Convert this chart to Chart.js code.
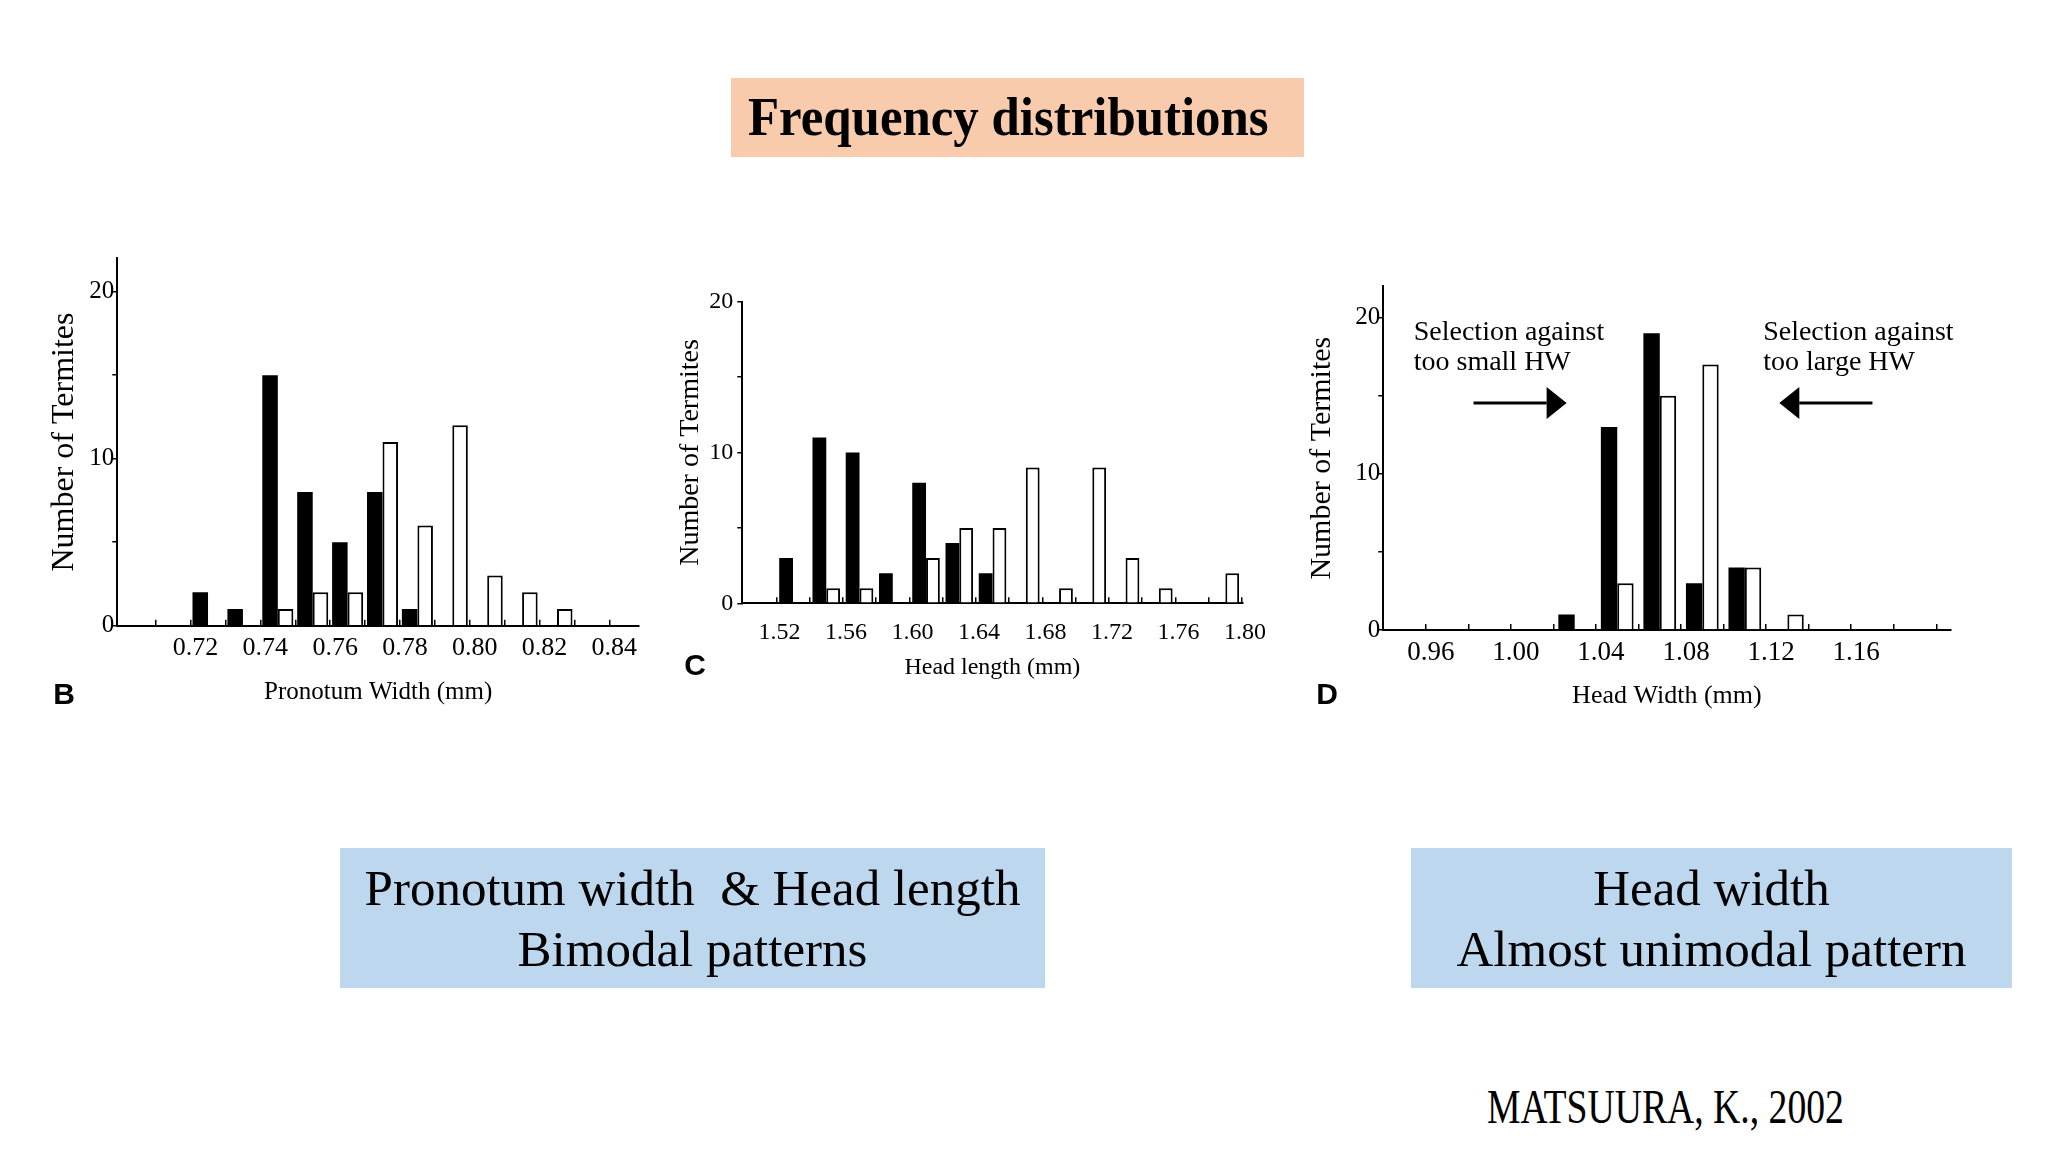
<!DOCTYPE html>
<html>
<head>
<meta charset="utf-8">
<title>Frequency distributions</title>
<script src="https://cdn.jsdelivr.net/npm/chart.js@4.4.1/dist/chart.umd.min.js"></script>
<style>
  html, body { margin: 0; padding: 0; background: #fff; }
  body {
    width: 2048px; height: 1152px; position: relative; overflow: hidden;
    font-family: "Liberation Serif", "Times New Roman", serif; color: #000;
  }
  .abs { position: absolute; }
  canvas { position: absolute; }

  /* slide title */
  .title-box { left: 731px; top: 78px; width: 573px; height: 79px; background: #f8cbad; }
  .title-text {
    left: 748px; top: 89px; font-weight: bold; font-size: 55px; line-height: 1;
    white-space: nowrap; transform: scaleX(0.925); transform-origin: left top;
  }

  /* blue summary boxes */
  .note-box { top: 848px; height: 140px; background: #bdd7ee; }
  .note-text {
    position: absolute; left: 0; right: 0; top: 10px; text-align: center;
    font-size: 51px; line-height: 60.7px; white-space: pre;
  }

  /* panel letters B, C, D */
  .panel {
    font-family: "Liberation Sans", Arial, sans-serif; font-weight: bold;
    font-size: 30px; line-height: 1; transform: translate(-50%, -50%);
  }

  .cite {
    left: 1487px; top: 1083px; font-size: 48px; line-height: 1; white-space: nowrap;
    transform: scaleX(0.785); transform-origin: left top;
  }
</style>
</head>
<body>

<div class="abs title-box"></div>
<div class="abs title-text">Frequency distributions</div>

<canvas id="pronotumChart"></canvas>
<canvas id="headLengthChart"></canvas>
<canvas id="headWidthChart"></canvas>

<div class="abs panel" style="left:64px; top:694px;">B</div>
<div class="abs panel" style="left:695px; top:665px;">C</div>
<div class="abs panel" style="left:1327px; top:694px;">D</div>

<div class="abs note-box" style="left:340px; width:705px;">
  <div class="note-text">Pronotum width  &amp; Head length
Bimodal patterns</div>
</div>
<div class="abs note-box" style="left:1411px; width:601px;">
  <div class="note-text">Head width
Almost unimodal pattern</div>
</div>

<div class="abs cite">MATSUURA, K., 2002</div>

<script>
// ---------- data ----------

// B: pronotum width, 0.01 mm classes (class centres)
const pronotumBins  = [0.705, 0.715, 0.725, 0.735, 0.745, 0.755, 0.765, 0.775, 0.785, 0.795, 0.805, 0.815, 0.825, 0.835];
const pronotumBlack = [0, 0, 2, 1, 15, 8, 5, 8, 1, 0, 0, 0, 0, 0];
const pronotumWhite = [0, 0, 0, 0, 1, 2, 2, 11, 6, 12, 3, 2, 1, 0];
const pronotumTicks = [0.71, 0.72, 0.73, 0.74, 0.75, 0.76, 0.77, 0.78, 0.79, 0.80, 0.81, 0.82, 0.83, 0.84];
const pronotumTickLabels = ['0.72', '0.74', '0.76', '0.78', '0.80', '0.82', '0.84'];

// C: head length, 0.02 mm classes
const headLengthBins  = [1.51, 1.53, 1.55, 1.57, 1.59, 1.61, 1.63, 1.65, 1.67, 1.69, 1.71, 1.73, 1.75, 1.77, 1.79];
const headLengthBlack = [0, 3, 11, 10, 2, 8, 4, 2, 0, 0, 0, 0, 0, 0, 0];
const headLengthWhite = [0, 0, 1, 1, 0, 3, 5, 5, 9, 1, 9, 3, 1, 0, 2];
const headLengthTicks = [1.52, 1.54, 1.56, 1.58, 1.60, 1.62, 1.64, 1.66, 1.68, 1.70, 1.72, 1.74, 1.76, 1.78, 1.80];
const headLengthTickLabels = ['1.52', '1.56', '1.60', '1.64', '1.68', '1.72', '1.76', '1.80'];

// D: head width, 0.02 mm classes
const headWidthBins  = [0.95, 0.97, 0.99, 1.01, 1.03, 1.05, 1.07, 1.09, 1.11, 1.13, 1.15, 1.17, 1.19];
const headWidthBlack = [0, 0, 0, 0, 1, 13, 19, 3, 4, 0, 0, 0, 0];
const headWidthWhite = [0, 0, 0, 0, 0, 3, 15, 17, 4, 1, 0, 0, 0];
const headWidthTicks = [0.96, 0.98, 1.00, 1.02, 1.04, 1.06, 1.08, 1.10, 1.12, 1.14, 1.16, 1.18, 1.20];
const headWidthTickLabels = ['0.96', '1.00', '1.04', '1.08', '1.12', '1.16'];

// y axis (number of termites)
const countTicks = [0, 5, 10, 15, 20];
const countTickLabels = ['0', '10', '20'];

// D annotations (x in mm, y in counts)
const headWidthNotes = [
    { x: 0.9543, y: 18.6, lines: ['Selection against', 'too small HW'] },
    { x: 1.1186, y: 18.6, lines: ['Selection against', 'too large HW'] }
];
const headWidthArrows = [
    { from: 0.9824, to: 1.0262, y: 14.53 },
    { from: 1.1700, to: 1.1262, y: 14.53 }
];

const serif = "'Liberation Serif', 'Times New Roman', serif";

// Text + arrows drawn on top of the bars
function arrowNotes(notes, arrows) {
    return {
        id: 'arrowNotes',
        afterDatasetsDraw(chart) {
            const { ctx, scales: { x, y } } = chart;
            ctx.save();
            ctx.fillStyle = '#000';
            ctx.strokeStyle = '#000';
            ctx.font = '28px ' + serif;
            ctx.textBaseline = 'alphabetic';
            notes.forEach(n => {
                const px = x.getPixelForValue(n.x);
                const py = y.getPixelForValue(n.y);
                n.lines.forEach((t, i) => ctx.fillText(t, px, py + i * 30));
            });
            const headLen = 20, headHalf = 16;
            arrows.forEach(a => {
                const x0 = x.getPixelForValue(a.from);
                const x1 = x.getPixelForValue(a.to);
                const py = y.getPixelForValue(a.y);
                const dir = Math.sign(x1 - x0);
                ctx.lineWidth = 3;
                ctx.beginPath();
                ctx.moveTo(x0, py);
                ctx.lineTo(x1 - dir * headLen, py);
                ctx.stroke();
                ctx.beginPath();
                ctx.moveTo(x1, py);
                ctx.lineTo(x1 - dir * headLen, py - headHalf);
                ctx.lineTo(x1 - dir * headLen, py + headHalf);
                ctx.closePath();
                ctx.fill();
            });
            ctx.restore();
        }
    };
}

// One histogram panel; cfg.area is the wanted plot rectangle on the page
function makeHistogram(id, cfg) {
    const canvas = document.getElementById(id);
    const a = cfg.area;
    const left = Math.floor(a.left - 80);
    const top = Math.floor(a.top - 30);
    const width = Math.ceil(a.right + 30 - left);
    const height = Math.ceil(a.bottom + 90 - top);
    const yAxisWidth = a.left - left;
    const xAxisHeight = top + height - a.bottom;

    canvas.width = width;
    canvas.height = height;
    canvas.style.left = left + 'px';
    canvas.style.top = top + 'px';

    const xTickLen = -6; // small marks pointing up into the plot
    const xLabelPad = cfg.xLabelY - a.bottom - cfg.xTickSize / 2 - xTickLen;

    return new Chart(canvas, {
        type: 'bar',
        data: {
            datasets: [
                {
                    label: 'filled',
                    data: cfg.bins.map((b, i) => ({ x: b, y: cfg.black[i] })),
                    backgroundColor: '#000',
                    borderWidth: 0
                },
                {
                    label: 'open',
                    data: cfg.bins.map((b, i) => ({ x: b, y: cfg.white[i] })),
                    backgroundColor: '#fff',
                    borderColor: '#000',
                    borderWidth: 2
                }
            ]
        },
        options: {
            responsive: false,
            animation: false,
            events: [],
            layout: { padding: { left: 0, top: a.top - top, right: left + width - a.right, bottom: 0 } },
            datasets: { bar: { barPercentage: 1, categoryPercentage: cfg.groupWidth } },
            plugins: {
                legend: { display: false },
                tooltip: { enabled: false }
            },
            scales: {
                x: {
                    type: 'linear',
                    min: cfg.xMin,
                    max: cfg.xMax,
                    offset: false,
                    afterBuildTicks: s => { s.ticks = cfg.ticks.map(v => ({ value: v })); },
                    afterFit: s => { s.height = xAxisHeight; },
                    ticks: {
                        autoSkip: false,
                        maxRotation: 0,
                        padding: xLabelPad,
                        labelOffset: cfg.xLabelShift,
                        color: '#000',
                        font: { family: serif, size: cfg.xTickSize, lineHeight: 1 },
                        callback: v => {
                            const t = Number(v).toFixed(2);
                            return cfg.tickLabels.includes(t) ? t : '';
                        }
                    },
                    grid: {
                        display: true, offset: false, drawOnChartArea: false,
                        drawTicks: true, tickLength: xTickLen, color: '#000', lineWidth: 1.5
                    },
                    border: { display: true, color: '#000', width: 2 },
                    title: {
                        display: true,
                        text: cfg.xTitle,
                        color: '#000',
                        font: { family: serif, size: cfg.xTitleSize, lineHeight: 1 },
                        padding: { top: 0, bottom: top + height - cfg.xTitleY - cfg.xTitleSize / 2 }
                    }
                },
                y: {
                    min: 0,
                    max: cfg.yMax,
                    afterBuildTicks: s => { s.ticks = countTicks.map(v => ({ value: v })); },
                    afterFit: s => { s.width = yAxisWidth; },
                    ticks: {
                        autoSkip: false,
                        padding: cfg.yLabelPad,
                        color: '#000',
                        font: { family: serif, size: cfg.yTickSize, lineHeight: 1 },
                        callback: v => countTickLabels.includes(String(v)) ? String(v) : ''
                    },
                    grid: {
                        display: true, drawOnChartArea: false, drawTicks: true,
                        tickLength: 5, color: '#000', lineWidth: 1.5
                    },
                    border: { display: true, color: '#000', width: 2 },
                    title: {
                        display: true,
                        text: 'Number of Termites',
                        color: '#000',
                        font: { family: serif, size: cfg.yTitleSize, lineHeight: 1 },
                        padding: { top: cfg.yTitleX - left - cfg.yTitleSize / 2, bottom: 0 }
                    }
                }
            }
        },
        plugins: cfg.extra ? [cfg.extra] : []
    });
}

document.addEventListener('DOMContentLoaded', function() {
    // B
    makeHistogram('pronotumChart', {
        area: { left: 117.3, top: 258.3, right: 639, bottom: 625.7 },
        xMin: 0.699, xMax: 0.8485, yMax: 22, groupWidth: 0.89,
        bins: pronotumBins, black: pronotumBlack, white: pronotumWhite,
        ticks: pronotumTicks, tickLabels: pronotumTickLabels,
        xTickSize: 26, xLabelY: 648.3, xLabelShift: 5, yTickSize: 25, yLabelPad: -2,
        xTitle: 'Pronotum Width (mm)', xTitleSize: 25, xTitleY: 692,
        yTitleSize: 32, yTitleX: 64.5
    });

    // C
    makeHistogram('headLengthChart', {
        area: { left: 742.3, top: 301.7, right: 1255.2, bottom: 603.3 },
        xMin: 1.4995, xMax: 1.8003, yMax: 20, groupWidth: 0.83,
        bins: headLengthBins, black: headLengthBlack, white: headLengthWhite,
        ticks: headLengthTicks, tickLabels: headLengthTickLabels,
        xTickSize: 24, xLabelY: 632.3, xLabelShift: 3, yTickSize: 24, yLabelPad: 4,
        xTitle: 'Head length (mm)', xTitleSize: 24, xTitleY: 668,
        yTitleSize: 28, yTitleX: 690.6
    });

    // D
    makeHistogram('headWidthChart', {
        area: { left: 1383.3, top: 286.4, right: 1950.5, bottom: 630 },
        xMin: 0.94, xMax: 1.2067, yMax: 22, groupWidth: 0.77,
        bins: headWidthBins, black: headWidthBlack, white: headWidthWhite,
        ticks: headWidthTicks, tickLabels: headWidthTickLabels,
        xTickSize: 27, xLabelY: 652.5, xLabelShift: 5, yTickSize: 25, yLabelPad: -2,
        xTitle: 'Head Width (mm)', xTitleSize: 26, xTitleY: 696,
        yTitleSize: 30, yTitleX: 1322.5,
        extra: arrowNotes(headWidthNotes, headWidthArrows)
    });
});
</script>
</body>
</html>
